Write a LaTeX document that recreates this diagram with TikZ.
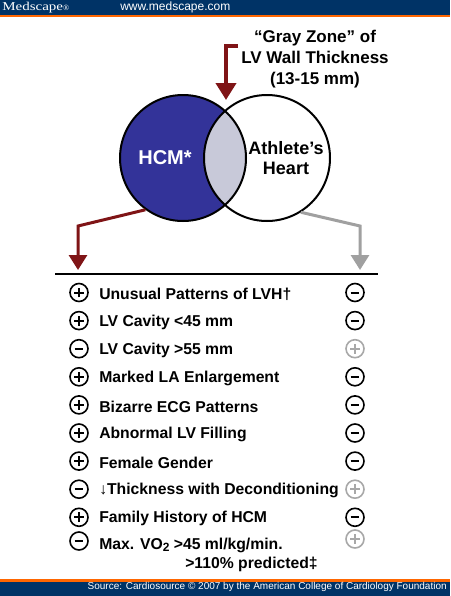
\documentclass[tikz,border=0pt]{standalone}
\usepackage{fontspec}
\setmainfont{Liberation Sans}
\newfontfamily\logofont{Liberation Serif}
\usetikzlibrary{arrows.meta,positioning}
\definecolor{navy}{HTML}{003366}
\definecolor{mdorange}{HTML}{FF6600}
\definecolor{hcmblue}{HTML}{333399}
\definecolor{lensgray}{HTML}{C8C9D9}
\definecolor{darkred}{HTML}{7F1416}
\definecolor{argray}{HTML}{A0A0A0}
\definecolor{sgngray}{HTML}{A8A8A8}
\tikzset{
  venn/.style   ={circle,draw=black,line width=1.5pt,minimum size=94.5pt,inner sep=0pt},
  sgn/.style    ={circle,draw=#1,line width=1.2pt,minimum size=13.5pt,inner sep=0pt},
  sgnplus/.style={sgn=#1,path picture={\draw[#1,line width=1.5pt]
                  ([xshift=-3.7pt]path picture bounding box.center) -- ([xshift=3.7pt]path picture bounding box.center)
                  ([yshift=-3.7pt]path picture bounding box.center) -- ([yshift=3.7pt]path picture bounding box.center);}},
  sgnminus/.style={sgn=#1,path picture={\draw[#1,line width=1.5pt]
                  ([xshift=-3.3pt]path picture bounding box.center) -- ([xshift=3.3pt]path picture bounding box.center);}},
  sgnplus/.default=black,
  sgnminus/.default=black,
  lsgn p/.style ={sgnplus},
  rsgn p/.style ={sgnminus},
  lsgn m/.style ={sgnminus},
  rsgn m/.style ={sgnplus=sgngray},
  item/.style   ={anchor=west,inner sep=0pt,font=\fontsize{11.8}{13}\selectfont\bfseries},
  zonetext/.style={align=center,inner sep=0pt,font=\fontsize{12.75}{15.75}\selectfont\bfseries},
  vlabel/.style ={align=center,inner sep=0pt,font=\fontsize{13.5}{14.5}\selectfont\bfseries},
  zonearrow/.style={-{Triangle[length=12.75pt,width=15pt]},line width=3pt,draw=darkred},
  redarrow/.style ={-{Triangle[length=11.25pt,width=13.5pt]},line width=2.25pt,draw=darkred},
  grayarrow/.style={-{Triangle[length=11.25pt,width=13.5pt]},line width=2.25pt,draw=argray}
}
\begin{document}
\begin{tikzpicture}[x=0.75pt,y=-0.75pt]
  \useasboundingbox (0,0) rectangle (450,596);
  % header and footer bars
  \fill[navy] (0,0) rectangle (450,14.5);
  \fill[mdorange] (0,14.5) rectangle (450,17.3);
  \fill[mdorange] (0,579.3) rectangle (450,581.5);
  \fill[navy] (0,581.5) rectangle (450,596);
  \node[anchor=west,inner sep=0pt,text=white,font=\logofont\fontsize{9}{9}\selectfont] (logo) at (2,7.5)
    {\scalebox{1.25}[1]{Medscape}{\fontsize{6}{6}\selectfont ®}};
  \node[anchor=west,inner sep=0pt,text=white,font=\fontsize{9}{9}\selectfont] (url) at (120,7.5) {www.medscape.com};
  \node[anchor=east,inner sep=0pt,text=white,font=\fontsize{7.5}{8}\selectfont] (src) at (447,587)
    {Source: Cardiosource © 2007 by the American College of Cardiology Foundation};

  % venn
  \fill[hcmblue] (183,158) circle (63);
  \begin{scope}
    \clip (183,158) circle (63);
    \fill[lensgray] (267,158) circle (63);
  \end{scope}
  \node[venn] (hcm) at (183,158) {};
  \node[venn] (ath) at (267,158) {};
  \node[vlabel,text=white,font=\fontsize{15}{16}\selectfont\bfseries] (hcmlbl) at ([xshift=-13.5pt]hcm.center) {HCM*};
  \node[vlabel] (athlbl) at ([xshift=14.25pt]ath.center) {Athlete’s\\Heart};

  \node[zonetext] (zone) at (315,59) {“Gray Zone” of\\LV Wall Thickness\\(13-15 mm)};
  \coordinate (zstub) at (238,46);
  \coordinate (ztip) at (226,100);
  \draw[zonearrow] (zstub) -| (ztip);

  \coordinate (hbend) at (78,226);
  \coordinate (htip) at (78,270);
  \coordinate (abend) at (360,226);
  \coordinate (atip) at (360,270);
  \draw[redarrow] (hcm.234) -- (hbend) -- (htip);
  \draw[grayarrow] (ath.302) -- (abend) -- (atip);
  \draw[line width=1.5pt] (55,274) -- (378,274);

  % criteria
  \foreach \s/\txt [count=\i] in {p/Unusual Patterns of LVH†, p/LV Cavity <45 mm, m/LV Cavity >55 mm,
      p/Marked LA Enlargement, p/Bizarre ECG Patterns, p/Abnormal LV Filling, p/Female Gender,
      m/↓Thickness with Deconditioning, p/Family History of HCM}
  {
    \pgfmathsetmacro\yy{292.5+28.1*(\i-1)}
    \node[lsgn \s] (l\i) at (79,\yy) {};
    \node[rsgn \s] (r\i) at (355,\yy) {};
    \node[item] (t\i) at (99,\yy+1.5) {\txt};
  }
  \node[lsgn m] (l10) at (79,541) {};
  \node[rsgn m] (r10) at (355,539) {};
  \node[item] (t10) at (99,545) {Max. VO{\fontsize{9}{9}\selectfont\raisebox{-2pt}{2}} >45 ml/kg/min.};
  \node[item] (t10b) at (185,564) {>110\% predicted‡};
\end{tikzpicture}
\end{document}
